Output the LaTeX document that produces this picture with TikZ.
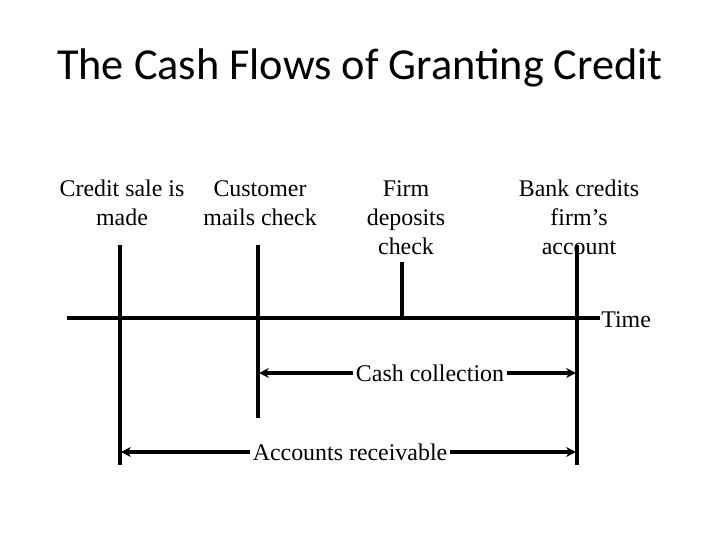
\documentclass[tikz,border=0pt]{standalone}
\usepackage{fontspec}
\setmainfont{Liberation Serif}
\newfontfamily\titlefont{Carlito}
\usetikzlibrary{arrows.meta}
\begin{document}
\begin{tikzpicture}[x=0.025cm,y=-0.025cm,
  lbl/.style={align=center,font=\fontsize{17}{20.5}\selectfont,anchor=north,inner sep=0,text depth=0pt},
  txt/.style={font=\fontsize{17}{20}\selectfont},
  thick line/.style={line width=2.8pt},
  arr/.style={line width=2.8pt,-{Stealth[length=7pt,width=7pt]}}]
\useasboundingbox (0,0) rectangle (720,540);
\node[font=\titlefont\fontsize{31.5}{36}\selectfont] (title) at (360,68) {The Cash Flows of Granting Credit};
\node[lbl] (l1) at (122,176) {\strut Credit sale is\\\strut made};
\node[lbl] (l2) at (260,176) {\strut Customer\\\strut mails check};
\node[lbl] (l3) at (406,176) {\strut Firm\\\strut deposits\\\strut check};
\node[lbl] (l4) at (579,176) {\strut Bank credits\\\strut firm’s\\\strut account};
\coordinate (t0) at (67,318); \coordinate (t1) at (600,318);
\draw[thick line] (t0) -- (t1);
\node[txt,anchor=west,inner sep=0] (time) at (601,320) {Time};
\coordinate (a1) at (120,245); \coordinate (a2) at (120,465);
\coordinate (b1) at (258,245); \coordinate (b2) at (258,418);
\coordinate (c1) at (402,262); \coordinate (c2) at (402,318);
\coordinate (d1) at (577,245); \coordinate (d2) at (577,465);
\draw[thick line] (a1) -- (a2);
\draw[thick line] (b1) -- (b2);
\draw[thick line] (c1) -- (c2);
\draw[thick line] (d1) -- (d2);
\node[txt,inner sep=2pt] (cc) at (430,373) {Cash collection};
\node[txt,inner sep=2pt] (ar) at (350,452) {Accounts receivable};
\coordinate (cl) at (259,373); \coordinate (cr) at (576,373);
\coordinate (al) at (121,452); \coordinate (arr) at (576,452);
\draw[arr] (cc.west) -- (cl);
\draw[arr] (cc.east) -- (cr);
\draw[arr] (ar.west) -- (al);
\draw[arr] (ar.east) -- (arr);
\end{tikzpicture}
\end{document}
